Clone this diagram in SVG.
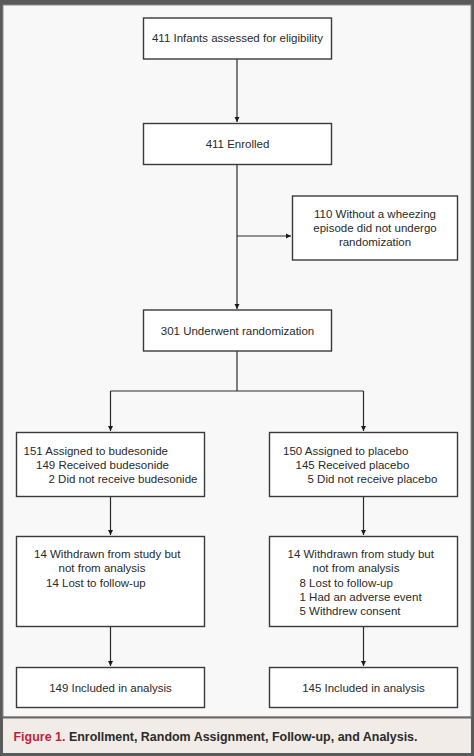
<svg xmlns="http://www.w3.org/2000/svg" width="474" height="756" viewBox="0 0 474 756">
<style>
.box{fill:#ffffff;stroke:#3a3a3a;stroke-width:1.4}
.t{font-family:"Liberation Sans",Arial,sans-serif;font-size:11.5px;fill:#2a2a2a}
.c{text-anchor:middle}
.ln{fill:none;stroke:#2a2a2a;stroke-width:1.2}
</style>
<defs>
<marker id="ah" viewBox="0 0 10 10" refX="10" refY="5" markerWidth="5" markerHeight="6" markerUnits="userSpaceOnUse" orient="auto">
<path d="M0,0 L10,5 L0,10 z" fill="#1a1a1a"/>
</marker>
</defs>
<rect x="0" y="0" width="474" height="756" fill="#5a5a5a"/>
<rect x="3" y="5" width="468" height="712" fill="#f8f8f8" stroke="#8a8a8a" stroke-width="1"/>
<rect x="3" y="718" width="468" height="35" fill="#f1ece7"/>
<line x1="3" y1="717.5" x2="471" y2="717.5" stroke="#6a6a6a" stroke-width="2"/>

<g id="connectors">
<line class="ln" x1="237" y1="59" x2="237" y2="122" marker-end="url(#ah)"/>
<line class="ln" x1="237" y1="164" x2="237" y2="309" marker-end="url(#ah)"/>
<line class="ln" x1="237" y1="236" x2="291" y2="236" marker-end="url(#ah)"/>
<line class="ln" x1="237" y1="351" x2="237" y2="391"/>
<line class="ln" x1="110.5" y1="391" x2="363.5" y2="391"/>
<line class="ln" x1="110.5" y1="391" x2="110.5" y2="431" marker-end="url(#ah)"/>
<line class="ln" x1="363.5" y1="391" x2="363.5" y2="431" marker-end="url(#ah)"/>
<line class="ln" x1="110.5" y1="496" x2="110.5" y2="535" marker-end="url(#ah)"/>
<line class="ln" x1="363.5" y1="496" x2="363.5" y2="535" marker-end="url(#ah)"/>
<line class="ln" x1="110.5" y1="627" x2="110.5" y2="666" marker-end="url(#ah)"/>
<line class="ln" x1="363.5" y1="627" x2="363.5" y2="666" marker-end="url(#ah)"/>
</g>

<g id="n1"><rect class="box" x="143.5" y="18" width="188" height="41"/>
<text class="t c" x="237.5" y="42">411 Infants assessed for eligibility</text></g>
<g id="n2"><rect class="box" x="143.5" y="123.5" width="188" height="41"/>
<text class="t c" x="237.5" y="148">411 Enrolled</text></g>
<g id="n3"><rect class="box" x="292.5" y="196" width="165" height="64"/>
<text class="t c" x="375" y="218">110 Without a wheezing</text>
<text class="t c" x="375" y="232">episode did not undergo</text>
<text class="t c" x="375" y="246">randomization</text></g>
<g id="n4"><rect class="box" x="143.5" y="310" width="188" height="41"/>
<text class="t c" x="237.5" y="334.5">301 Underwent randomization</text></g>
<g id="n5"><rect class="box" x="16.5" y="432.5" width="188" height="64"/>
<text class="t" x="23.5" y="455">151 Assigned to budesonide</text>
<text class="t" x="36" y="469">149 Received budesonide</text>
<text class="t" x="48.5" y="483">2 Did not receive budesonide</text></g>
<g id="n6"><rect class="box" x="269.5" y="432.5" width="188" height="64"/>
<text class="t" x="283" y="455">150 Assigned to placebo</text>
<text class="t" x="295.5" y="469">145 Received placebo</text>
<text class="t" x="307.5" y="483">5 Did not receive placebo</text></g>
<g id="n7"><rect class="box" x="16.5" y="536.5" width="188" height="90"/>
<text class="t" x="34" y="558">14 Withdrawn from study but</text>
<text class="t" x="58.5" y="572">not from analysis</text>
<text class="t" x="46" y="586.5">14 Lost to follow-up</text></g>
<g id="n8"><rect class="box" x="269.5" y="536.5" width="188" height="90"/>
<text class="t" x="287.5" y="558">14 Withdrawn from study but</text>
<text class="t" x="312.5" y="572">not from analysis</text>
<text class="t" x="299.5" y="586.5">8 Lost to follow-up</text>
<text class="t" x="299.5" y="600.5">1 Had an adverse event</text>
<text class="t" x="299.5" y="614.5">5 Withdrew consent</text></g>
<g id="n9"><rect class="box" x="16.5" y="667.5" width="188" height="40"/>
<text class="t c" x="110.5" y="691.5">149 Included in analysis</text></g>
<g id="n10"><rect class="box" x="269.5" y="667.5" width="188" height="40"/>
<text class="t c" x="363.5" y="691.5">145 Included in analysis</text></g>

<text x="13.5" y="740.5" font-family="'Liberation Sans',Arial,sans-serif" font-size="13" font-weight="bold" textLength="404" lengthAdjust="spacingAndGlyphs"><tspan fill="#c41e3a">Figure 1.</tspan><tspan fill="#2a2a2a"> Enrollment, Random Assignment, Follow-up, and Analysis.</tspan></text>
</svg>
